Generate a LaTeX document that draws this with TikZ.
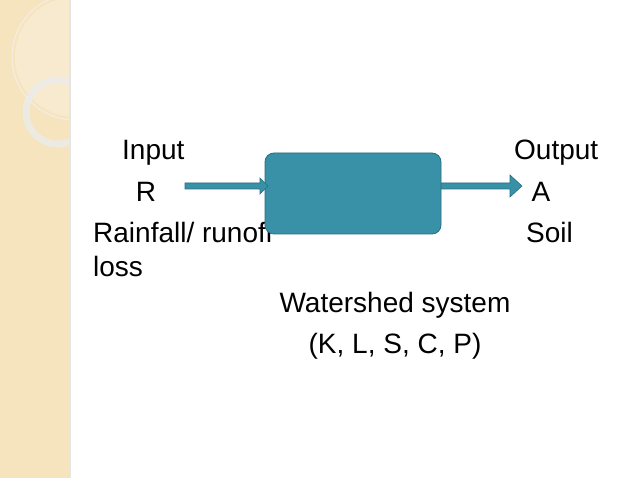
\documentclass[tikz,border=0pt]{standalone}
\usepackage{fontspec}
\setmainfont{Liberation Sans}
\usetikzlibrary{shapes.arrows}
\definecolor{teal}{RGB}{57,145,168}
\definecolor{tealdk}{RGB}{40,110,130}
\definecolor{beige}{RGB}{245,228,190}
\begin{document}
\begin{tikzpicture}[x=1pt,y=-1pt,
  lbl/.style={font=\fontsize{28}{32}\selectfont,inner sep=0pt},
  arr/.style={fill=teal,draw=tealdk,line width=0.6pt}]
\useasboundingbox (0,0) rectangle (638,478);
\fill[white] (0,0) rectangle (638,478);
\begin{scope}
\clip (0,0) rectangle (70,478);
\fill[beige] (0,0) rectangle (70,478);
\fill[white,opacity=0.25] (75,57) circle (60);
\draw[white!85!brown,line width=1.2pt] (75,57) circle (63);
\draw[white!85!gray,opacity=0.8,line width=7pt] (58,112) circle (32);
\end{scope}
\fill[black!10] (69,0) rectangle (71,478);
\node[lbl,anchor=west] (in) at (122,153) {Input};
\node[lbl] (r) at (146,192) {R};
\node[lbl,anchor=west] (rain) at (93,232) {Rainfall/ runoff};
\node[lbl,anchor=west] (loss) at (93,266) {loss};
\node[lbl,anchor=west] (out) at (514,153) {Output};
\node[lbl] (a) at (541,192) {A};
\node[lbl,anchor=west] (soil) at (526,232) {Soil};
\node[lbl] (ws) at (395,305) {Watershed system};
\node[lbl] (kl) at (395,346) {(K, L, S, C, P)};
\node[draw=tealdk,fill=teal,rounded corners=9pt,minimum width=176pt,minimum height=81pt,line width=0.8pt] (box) at (353,193.5) {};
\coordinate (s1) at (185,186);
\coordinate (e2) at (522,186);
\draw[arr] (s1) ++(0,-3) -- (260,183) -- (260,178) -- (268,186) -- (260,194) -- (260,189) -- ++(-75,0) -- cycle;
\draw[arr] (box.east |- 0,183) -- (510,183) -- (510,175) -- (e2) -- (510,197) -- (510,189) -- (box.east |- 0,189) -- cycle;
\end{tikzpicture}
\end{document}
